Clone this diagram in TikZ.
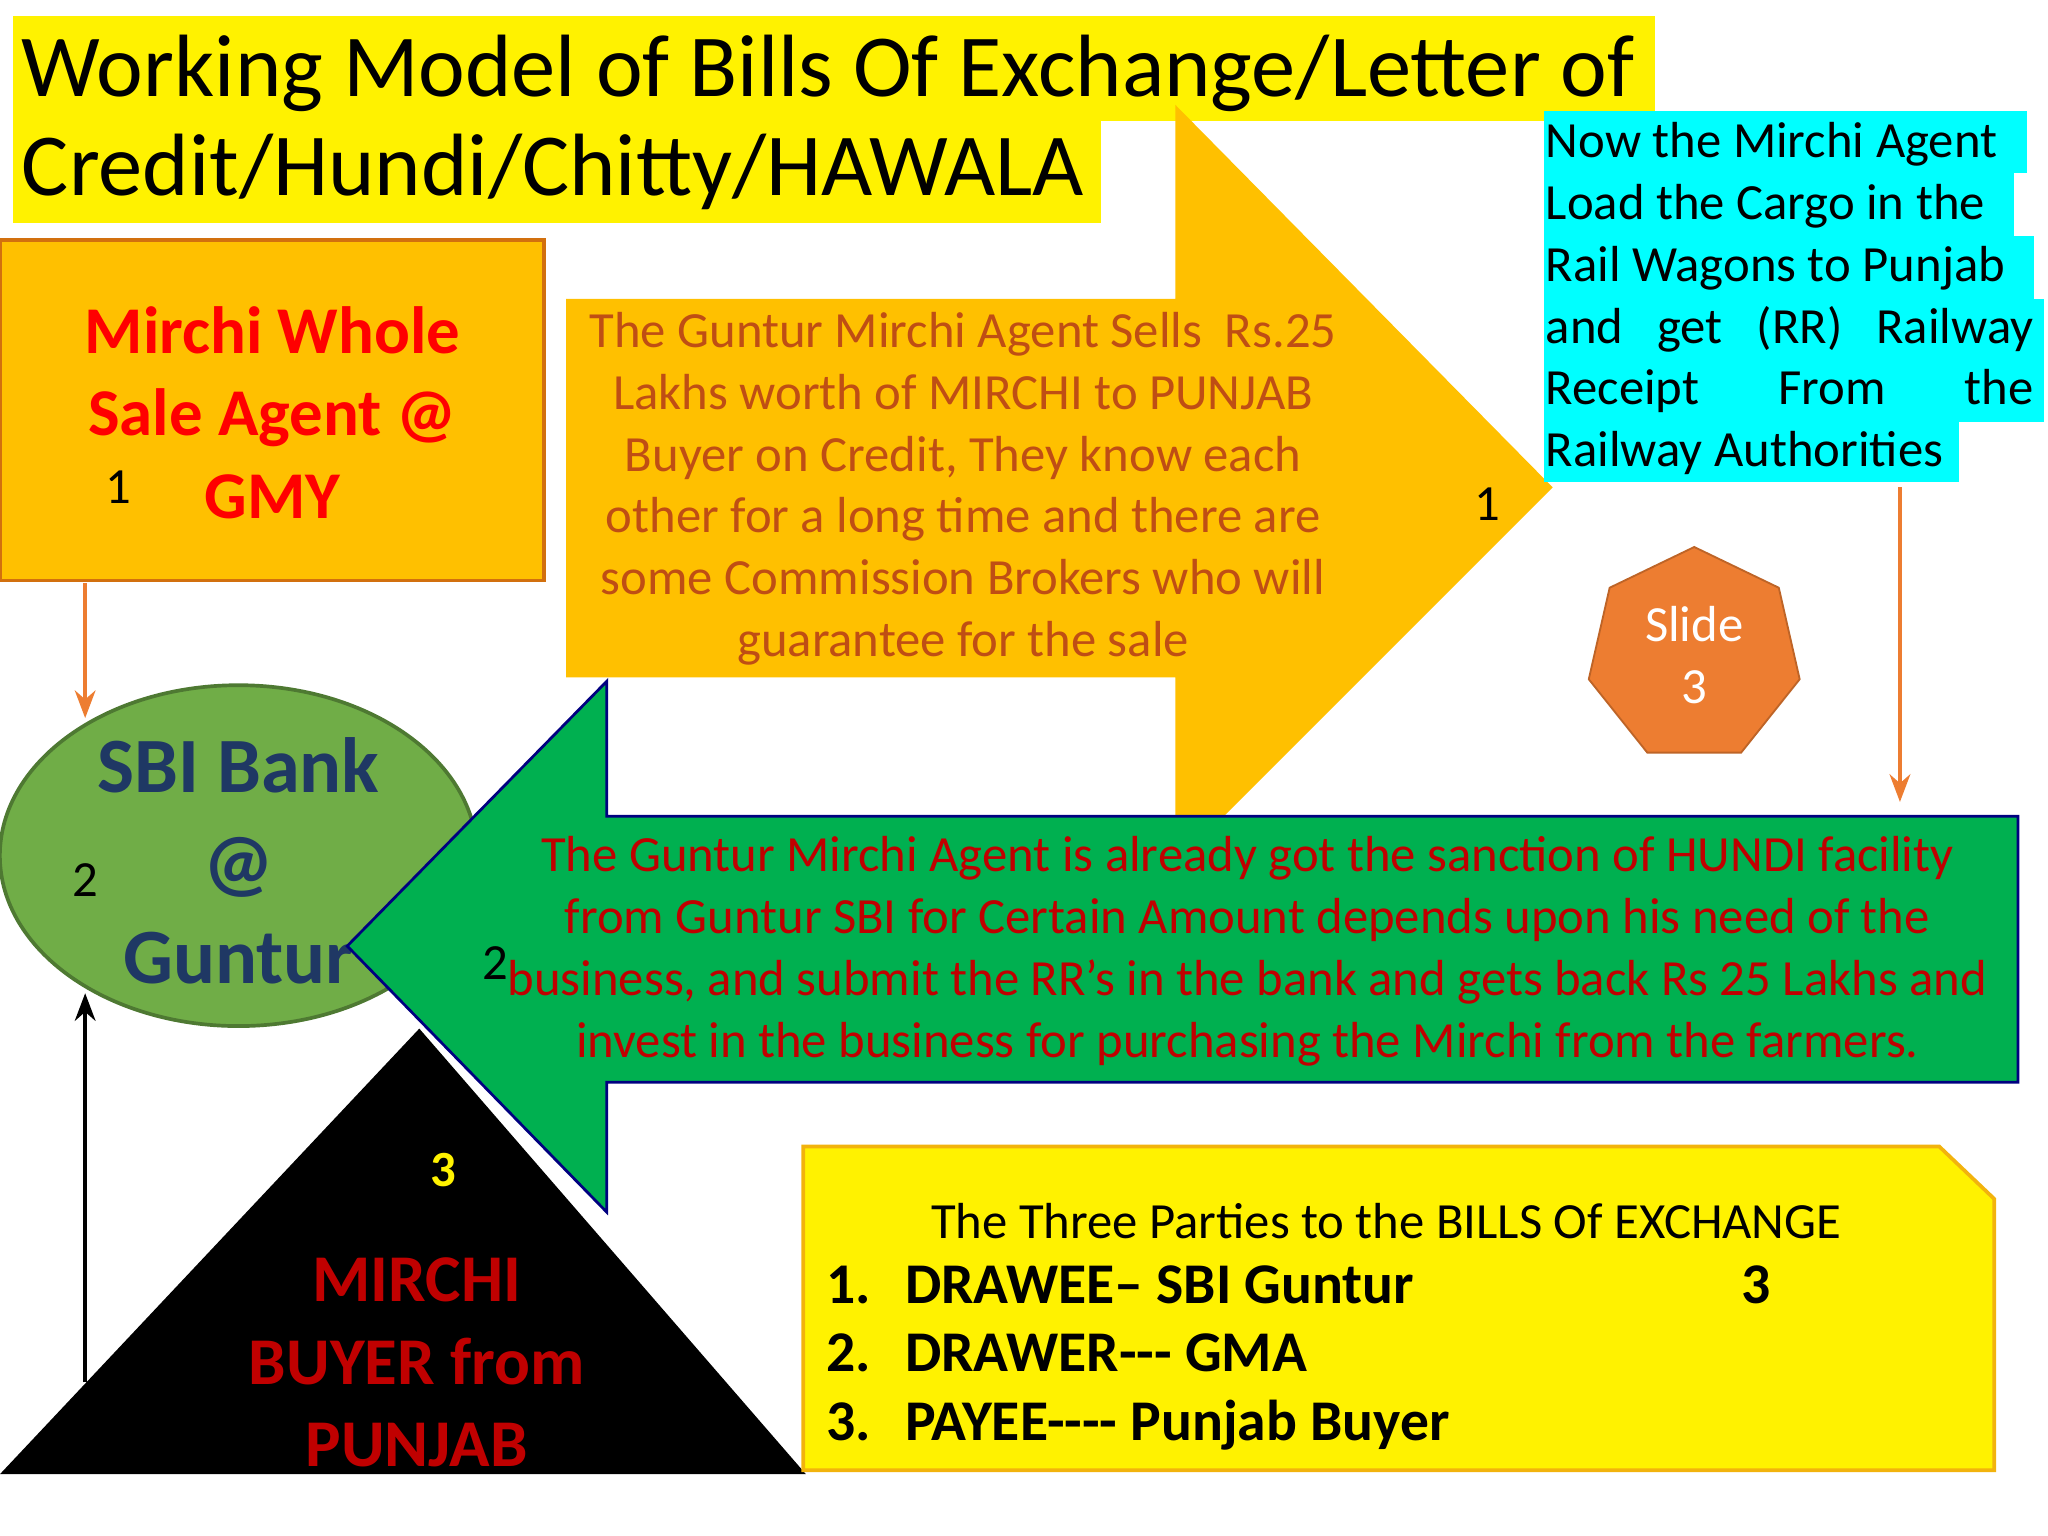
\documentclass[tikz,border=0pt]{standalone}
\usepackage{fontspec}
\setmainfont{Carlito}
\usetikzlibrary{shapes.geometric,arrows.meta}
\definecolor{gold}{HTML}{FFC000}
\definecolor{dred}{HTML}{C00000}
\definecolor{brn}{HTML}{BF4E14}
\definecolor{sbiblue}{HTML}{1F3864}
\definecolor{grn}{HTML}{00B050}
\definecolor{lgrn}{HTML}{70AD47}
\definecolor{org}{HTML}{ED7D31}
\definecolor{cyn}{HTML}{00FFFF}
\tikzset{
  lbl/.style={inner sep=0pt,font=\fontsize{11}{13}\selectfont},
  para/.style={inner sep=0pt,align=center,font=\fontsize{11}{13.4}\selectfont},
}
\begin{document}
\begin{tikzpicture}[x=0.01cm,y=-0.01cm]
\useasboundingbox[fill=white] (0,0) rectangle (1563,1172);
% title
\fill[yellow] (10,12) rectangle (1263,92);
\fill[yellow] (10,92) rectangle (840,170);
\node[anchor=west,inner sep=0pt,font=\fontsize{19.2}{22}\selectfont] (t1) at (16,56) {Working Model of Bills Of Exchange/Letter of};
\node[anchor=west,inner sep=0pt,font=\fontsize{19.2}{22}\selectfont] (t2) at (16,131) {Credit/Hundi/Chitty/HAWALA};
% orange box
\draw[draw=brn!70!gold,fill=gold,line width=0.8pt] (0,183) rectangle (415,443);
\node[para,text=red,font=\fontsize{14.5}{17.9}\bfseries] (mw) at (208,315) {Mirchi Whole\\Sale Agent @\\GMY};
\node[lbl] (n1a) at (90,372) {1};
% big orange arrow
\fill[gold] (432,228) -- (897,228) -- (897,80) -- (1185,372) -- (897,660) -- (897,517) -- (432,517) -- cycle;
\node[para,text=brn] (sell) at (735,373) {The Guntur Mirchi Agent Sells~ Rs.25\\Lakhs worth of MIRCHI to PUNJAB\\Buyer on Credit, They know each\\other for a long time and there are\\some Commission Brokers who will\\guarantee for the sale};
\node[lbl] (n1b) at (1135,385) {1};
% cyan box
\fill[cyn] (1178,85) rectangle (1547,132);
\fill[cyn] (1178,132) rectangle (1537,180);
\fill[cyn] (1178,180) rectangle (1552,228);
\fill[cyn] (1178,228) rectangle (1560,322);
\fill[cyn] (1178,322) rectangle (1495,368);
\node[anchor=north west,inner sep=0pt,align=left,font=\fontsize{11}{13.4}\selectfont] (rr) at (1179,93) {Now the Mirchi Agent\\Load the Cargo in the\\Rail Wagons to Punjab\\\makebox[3.72cm][s]{and get (RR) Railway}\\\makebox[3.72cm][s]{Receipt From the}\\Railway Authorities};
\coordinate (rrb) at (1450,372);
\coordinate (rre) at (1450,612);
\draw[org,-{Stealth[length=6pt]},line width=0.8pt] (rrb) -- (rre);
% slide heptagon
\node[regular polygon,regular polygon sides=7,minimum size=1.65cm,fill=org,draw=org!80!black,text=white,align=center,font=\fontsize{11}{13.4}\selectfont] (sl) at (1293,500) {Slide\\3};
% ellipse
\node[ellipse,minimum width=3.64cm,minimum height=2.6cm,fill=lgrn,draw=lgrn!70!black,line width=0.8pt] (sbi) at (182,653) {};
\node[para,text=sbiblue,font=\fontsize{17}{20.8}\bfseries] (sbit) at (182,657) {SBI Bank\\@\\Guntur};
\node[lbl] (n2a) at (65,672) {2};
\coordinate (oa) at (65,445);
\draw[org,-{Stealth[length=6pt]},line width=0.8pt] (oa) -- (65,548);
% triangle
\fill[black] (320,785) -- (615,1125) -- (0,1125) -- cycle;
\node[lbl,text=yellow,font=\fontsize{11}{13}\bfseries] (n3a) at (338,893) {3};
\node[para,text=dred,font=\fontsize{14.5}{17.9}\bfseries] (buy) at (318,1040) {MIRCHI\\BUYER from\\PUNJAB};
\coordinate (ba) at (65,1055);
\draw[black,-{Stealth[length=6pt]},line width=0.8pt] (ba) -- (65,758);
% green arrow
\draw[fill=grn,draw=blue!50!black,line width=0.6pt] (265,722) -- (463,520) -- (463,623) -- (1540,623) -- (1540,826) -- (463,826) -- (463,925) -- cycle;
\node[para,text=dred] (hundi) at (952,726) {The Guntur Mirchi Agent is already got the sanction of HUNDI facility\\from Guntur SBI for Certain Amount depends upon his need of the\\business, and submit the RR’s in the bank and gets back Rs 25 Lakhs and\\invest in the business for purchasing the Mirchi from the farmers.};
\node[lbl] (n2b) at (378,735) {2};
% yellow snipped box
\draw[fill=yellow,draw=gold!80!brown,line width=0.8pt] (613,875) -- (1480,875) -- (1522,915) -- (1522,1122) -- (613,1122) -- cycle;
\node[lbl] (tp) at (1058,932) {The Three Parties to the BILLS Of EXCHANGE};
\begin{scope}[every node/.style={inner sep=0pt,anchor=base west,font=\fontsize{12.5}{15}\bfseries}]
\node (l1) at (630,995) {1.};\node (d1) at (690,995) {DRAWEE– SBI Guntur};
\node (l2) at (630,1047) {2.};\node (d2) at (690,1047) {DRAWER{-}{-}{-} GMA};
\node (l3) at (630,1099) {3.};\node (d3) at (690,1099) {PAYEE{-}{-}{-}{-} Punjab Buyer};
\node (n3b) at (1328,995) {3};
\end{scope}
\end{tikzpicture}
\end{document}
